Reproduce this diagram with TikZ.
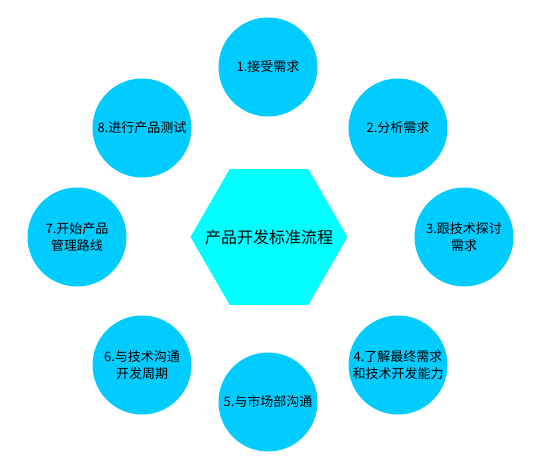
\documentclass[tikz,border=0pt]{standalone}
\usepackage{fontspec}
\newfontfamily\cjk{Noto Sans CJK SC}
\usetikzlibrary{shapes.geometric}
\definecolor{bubble}{RGB}{0,204,255}
\definecolor{hexfill}{RGB}{0,255,255}
\begin{document}
\begin{tikzpicture}[
        x=1pt, y=-1pt,
        step node/.style={
            circle, fill=bubble, draw=none,
            minimum size=99pt, inner sep=-3pt,
            align=center, font=\cjk\fontsize{13}{17}\selectfont
        },
        core/.style={
            regular polygon, regular polygon sides=6,
            fill=hexfill, draw=none, minimum size=157pt, inner sep=0pt
        },
        title/.style={font=\cjk\fontsize{16}{20}\selectfont, inner sep=0pt}
    ]
        \useasboundingbox (0,0) rectangle (539,464);

        % Centro
        \node[core] (flow) at (269,237) {};
        \node[title] (flowtitle) at (flow.center) {产品开发标准流程};

        % Pasos
        \node[step node] (accept) at (268,67) {1.接受需求};
        \node[step node] (analyze) at (398,128) {2.分析需求};
        \node[step node] (discuss) at (464,237) {3.跟技术探讨\\需求};
        \node[step node] (understand) at (398,365) {4.了解最终需求\\和技术开发能力};
        \node[step node] (market) at (268,402) {5.与市场部沟通};
        \node[step node] (schedule) at (142,365) {6.与技术沟通\\开发周期};
        \node[step node] (roadmap) at (77,237) {7.开始产品\\管理路线};
        \node[step node] (testing) at (142,128) {8.进行产品测试};

    \end{tikzpicture}
\end{document}
